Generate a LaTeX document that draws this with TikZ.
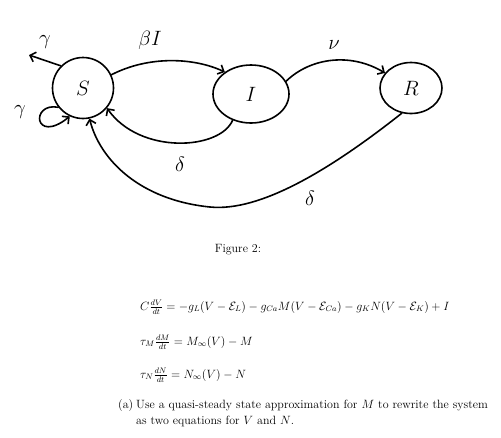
\documentclass[tikz,border=0pt]{standalone}
\usepackage{amsmath}
\usetikzlibrary{shapes.geometric,arrows.meta,positioning}
\tikzset{
    pen/.style   = {line width=1.6pt, line cap=round, line join=round},
    flow/.style  = {pen, -{Straight Barb[length=5pt,width=10pt,line width=1.6pt]}},
    state/.style = {pen, draw, font=\huge},
    rate/.style  = {font=\huge},
    body/.style  = {font=\fontsize{12}{16}\selectfont, inner sep=0pt}
}
\begin{document}
\begin{tikzpicture}[x=1pt, y=-1pt]
    \useasboundingbox (0,0) rectangle (501,437);

    % --- States ---
    \node[state, circle, minimum size=61pt] (S) at (83, 88) {$S$};
    \node[state, ellipse, minimum width=76pt, minimum height=58pt] (I) at (251, 94) {$I$};
    \node[state, ellipse, minimum width=62pt, minimum height=51pt] (R) at (411, 88) {$R$};
    \coordinate (out_S) at (29, 55);

    % --- Transitions ---
    \draw[flow] (S.25) .. controls (150, 55) and (195, 58) .. (I.140)
        node[rate] (lbl_beta) at (150, 40) {$\beta I$};
    \draw[flow] (I.20) .. controls (310, 58) and (350, 52) .. (R.150)
        node[rate] (lbl_nu) at (334, 45) {$\nu$};
    \draw[flow] (I.235) .. controls (220, 150) and (140, 155) .. (S.320)
        node[rate] (lbl_dI) at (180, 164) {$\delta$};
    \draw[flow] (R.250) .. controls (330, 170) and (260, 212) .. (210, 207)
        .. controls (140, 200) and (100, 160) .. (S.282)
        node[rate] (lbl_dR) at (310, 198) {$\delta$};

    % births and deaths at S
    \draw[flow] (S.135) -- (out_S) node[rate] (lbl_out) at (45, 42) {$\gamma$};
    \draw[flow] (S.218) .. controls (30, 102) and (34, 145) .. (S.245)
        node[rate] (lbl_loop) at (20, 112) {$\gamma$};

    % --- Text below ---
    \node[body, anchor=base] (caption) at (238, 252) {Figure 2:};
    \node[body, anchor=base west] (eq1) at (140, 310)
        {$C\tfrac{dV}{dt} = -g_L(V-\mathcal{E}_L) - g_{Ca}M(V-\mathcal{E}_{Ca}) - g_K N(V-\mathcal{E}_K) + I$};
    \node[body, anchor=base west] (eq2) at (140, 345)
        {$\tau_M\tfrac{dM}{dt} = M_\infty(V) - M$};
    \node[body, anchor=base west] (eq3) at (140, 378)
        {$\tau_N\tfrac{dN}{dt} = N_\infty(V) - N$};
    \node[body, anchor=base west] (item_a) at (118, 408) {(a)};
    \node[body, anchor=base west, text width=355pt, align=left] (task_a) at (136, 408)
        {Use a quasi-steady state approximation for $M$ to rewrite the system as two equations for $V$ and $N$.};
\end{tikzpicture}
\end{document}
